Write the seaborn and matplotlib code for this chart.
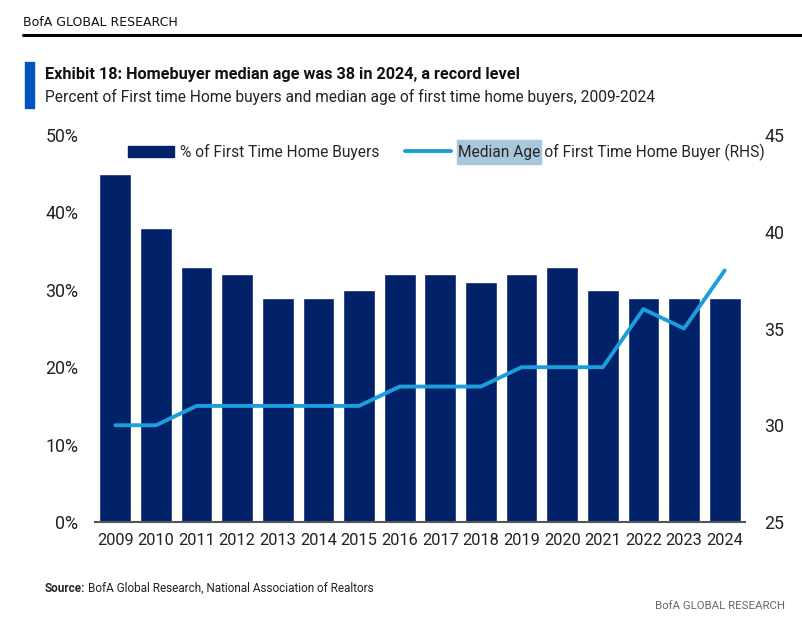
import pandas as pd
import matplotlib.pyplot as plt
import seaborn as sns
from matplotlib.patches import Rectangle, Patch
from matplotlib.lines import Line2D

# Data
years = [str(y) for y in range(2009, 2025)]
pct_first_time = [45, 38, 33, 32, 29, 29, 30, 32, 32, 31, 32, 33, 30, 29, 29, 29]
median_age = [30, 30, 31, 31, 31, 31, 31, 32, 32, 32, 33, 33, 33, 36, 35, 38]

df = pd.DataFrame({"Year": years, "Pct": pct_first_time, "Age": median_age})

NAVY = "#012169"
LIGHT = "#1A9FDC"
BLUE = "#0053C4"

sns.set_style("white")
plt.rcParams["font.family"] = ["Roboto", "DejaVu Sans"]

fig = plt.figure(figsize=(8.03, 6.18), dpi=100)
W, H = 803, 618
ax = fig.add_axes([95 / W, 1 - 522 / H, 650 / W, (522 - 135) / H])

sns.barplot(data=df, x="Year", y="Pct", color=NAVY, width=0.78,
            saturation=1, ax=ax, zorder=2)
ax.set_xlim(-0.5, 15.5)
ax.set_ylim(0, 50)
ax.set_yticks(range(0, 51, 10))
ax.set_yticklabels([f"{v}%" for v in range(0, 51, 10)])
ax.set_xlabel("")
ax.set_ylabel("")
ax.tick_params(axis="y", length=0, labelsize=12.8, colors="#222222", pad=12)
ax.tick_params(axis="x", length=0, labelsize=11.8, colors="#222222", pad=8)
for s in ["top", "right", "left"]:
    ax.spines[s].set_visible(False)
ax.spines["bottom"].set_color("#555555")
ax.spines["bottom"].set_linewidth(1.5)

ax2 = ax.twinx()
sns.lineplot(x=list(range(len(years))), y=median_age, color=LIGHT,
             linewidth=2.8, ax=ax2, zorder=3)
ax2.set_ylim(25, 45)
ax2.set_yticks(range(25, 46, 5))
ax2.tick_params(axis="y", length=0, labelsize=12.8, colors="#222222", pad=14)
for s in ["top", "right", "left", "bottom"]:
    ax2.spines[s].set_visible(False)
ax2.set_xlim(-0.5, 15.5)

handles = [Patch(color=NAVY), Line2D([0], [0], color=LIGHT, linewidth=2.8)]
labels = ["% of First Time Home Buyers", "Median Age of First Time Home Buyer (RHS)"]
leg = fig.legend(handles, labels, loc="center", bbox_to_anchor=(446 / W, 1 - 152 / H),
                 ncol=2, frameon=False, fontsize=11.2, handlelength=3.0,
                 handleheight=0.7, columnspacing=1.6, handletextpad=0.4)
leg.set_zorder(6)

# header
fig.text(23 / W, 1 - 22 / H, "BofA GLOBAL RESEARCH", fontsize=9,
         family=["DejaVu Sans"], va="center", color="#111111")
fig.add_artist(Line2D([23 / W, 1], [1 - 35 / H, 1 - 35 / H], color="black", linewidth=2.2))
fig.add_artist(Rectangle((25 / W, 1 - 108 / H), 9 / W, 46 / H, color=BLUE))
fig.text(45 / W, 1 - 75 / H, "Exhibit 18: Homebuyer median age was 38 in 2024, a record level",
         fontsize=11.7, fontweight="bold", va="center", color="#111111")
fig.text(45 / W, 1 - 97 / H,
         "Percent of First time Home buyers and median age of first time home buyers, 2009-2024",
         fontsize=11.2, va="center", color="#222222")

# footer
src = fig.text(45 / W, 1 - 588 / H, "Source:", fontsize=8.5, fontweight="bold", va="center")
fig.text(785 / W, 1 - 606 / H, "BofA GLOBAL RESEARCH", fontsize=8.2, ha="right",
         va="center", color="#666666")

fig.canvas.draw()
r = fig.canvas.get_renderer()
sb = src.get_window_extent(r)
fig.text(sb.x1 / W + 3 / W, 1 - 588 / H, "BofA Global Research, National Association of Realtors",
         fontsize=8.5, va="center", color="#222222")

# highlight over "Median Age" in the legend
t = leg.get_texts()[1]
bb = t.get_window_extent(r)
tmp = fig.text(0, 0, "Median Age", fontproperties=t.get_fontproperties())
wb = tmp.get_window_extent(r)
tmp.remove()
fig.add_artist(Rectangle((bb.x0 / W - 1 / W, bb.y0 / H - 3 / H), wb.width / W + 2 / W,
                         bb.height / H + 6 / H, color="#A8C6DC", zorder=4))

fig.savefig("out.png", dpi=100)
